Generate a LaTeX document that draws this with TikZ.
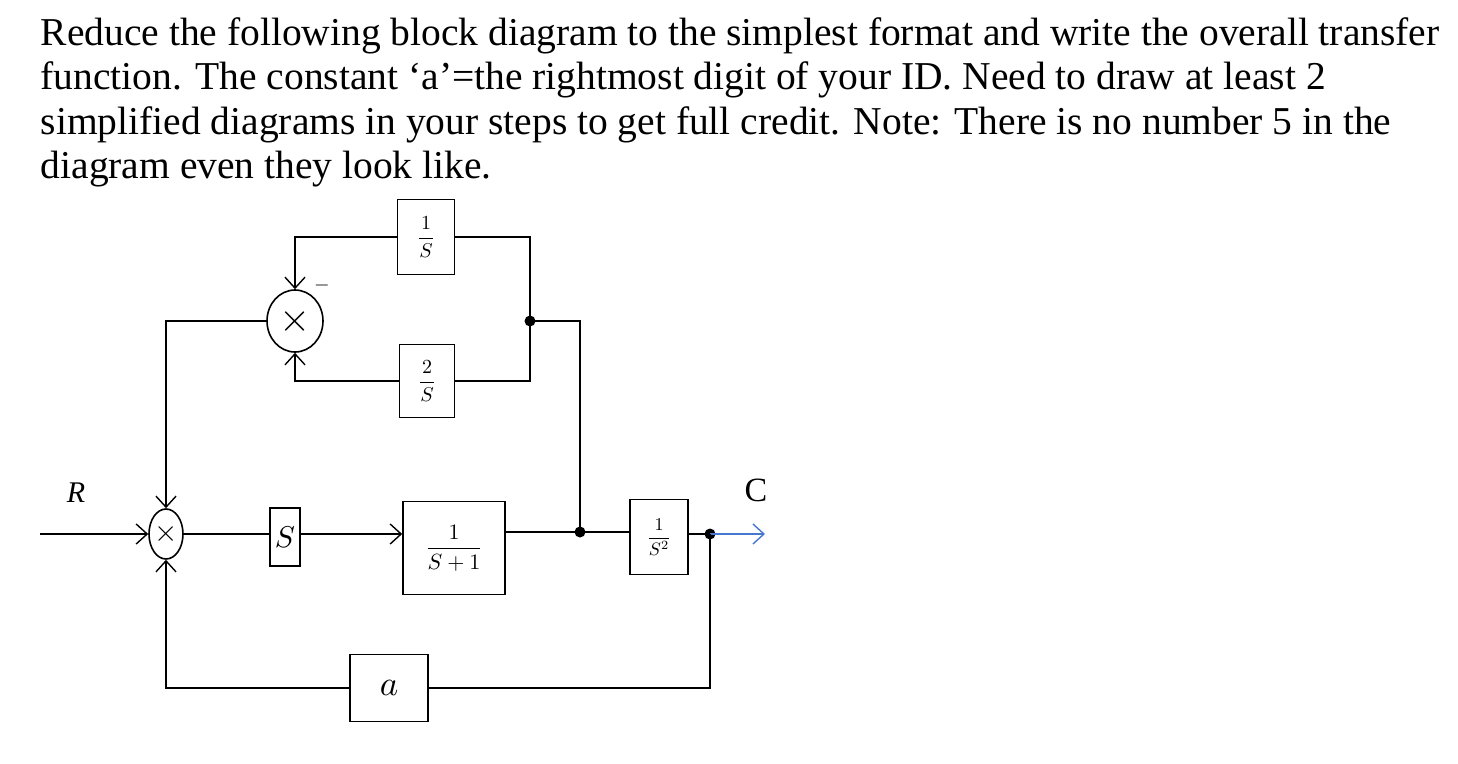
\documentclass[tikz,border=0pt]{standalone}
\usepackage{fontspec}
\setmainfont{Liberation Serif}
\usepackage{amsmath}
\usepackage{graphicx}
\usetikzlibrary{shapes.geometric,arrows.meta}
\begin{document}
\begin{tikzpicture}[x=1pt,y=-1pt,line width=1.6pt,
  blk/.style={draw,minimum width=#1,inner sep=1pt},
  sj/.style={draw,ellipse,minimum width=#1,inner sep=0pt},
  arr/.style={-{Straight Barb[length=11pt,width=20pt,line width=1.4pt]}},
  txt/.style={anchor=base west,inner sep=0pt,font=\fontsize{39.5}{44}\selectfont},
  dot/.style={circle,fill,inner sep=0pt,minimum size=11pt}]
\useasboundingbox (0,0) rectangle (1458,763);
\node[txt] (t1) at (40,45) {Reduce the following block diagram to the simplest format and write the overall transfer};
\node[txt] (t2) at (40,89) {function. The constant ‘a’=the rightmost digit of your ID. Need to draw at least 2};
\node[txt] (t3) at (40,134) {simplified diagrams in your steps to get full credit. Note: There is no number 5 in the};
\node[txt] (t4) at (40,178) {diagram even they look like.};
% blocks
\node[blk=57pt,minimum height=75pt] (b1) at (426,237) {\scalebox{2}{$\dfrac{1}{S}$}};
\node[blk=55pt,minimum height=73pt] (b2) at (427,381) {\scalebox{2}{$\dfrac{2}{S}$}};
\node[blk=30pt,minimum height=58pt] (bs) at (285,537) {\scalebox{3}{$S$}};
\node[blk=102pt,minimum height=93pt] (bp) at (454,548) {\scalebox{2.2}{$\dfrac{1}{S+1}$}};
\node[blk=58pt,minimum height=75pt] (bq) at (659,537) {\scalebox{1.8}{$\dfrac{1}{S^2}$}};
\node[blk=78pt,minimum height=67pt] (ba) at (389,688) {\scalebox{3.5}{$a$}};
% junctions
\node[sj=56pt,minimum height=62pt] (j1) at (295,321) {\scalebox{4}{$\times$}};
\node[sj=34pt,minimum height=50pt] (j0) at (166,534) {\scalebox{3}{$\times$}};
\node (m) at (322,285) {\scalebox{2}{$-$}};
\node[font=\fontsize{30}{32}\selectfont\itshape] (R) at (76,493) {R};
\node[font=\fontsize{34}{36}\selectfont] (C) at (756,490) {C};
\node[dot] (d1) at (530,321) {};
\node[dot] (d2) at (580,532) {};
\node[dot] (d3) at (710,534) {};
\coordinate (in) at (40,534);
\coordinate (out) at (765,534);
% connectors
\draw[arr] (b1.west) -| (j1.north);
\draw[arr] (b2.west) -| (j1.south);
\draw (b1.east) -| (d1.center) |- (b2.east);
\draw (d1.center) -| (d2.center);
\draw[arr] (j1.west) -| (j0.north);
\draw[arr] (in) -- (j0.west);
\draw (j0.east) -- (bs.west |- j0.east);
\draw[arr] (bs.east |- j0.east) -- (bp.west |- j0.east);
\draw (bp.east |- d2) -- (bq.west |- d2);
\draw (bq.east |- d3) -- (d3.center);
\draw[arr,draw={rgb,255:red,70;green,120;blue,210}] (d3.center) -- (out);
\draw (d3.center) |- (ba.east);
\draw[arr] (ba.west) -| (j0.south);
\end{tikzpicture}
\end{document}
